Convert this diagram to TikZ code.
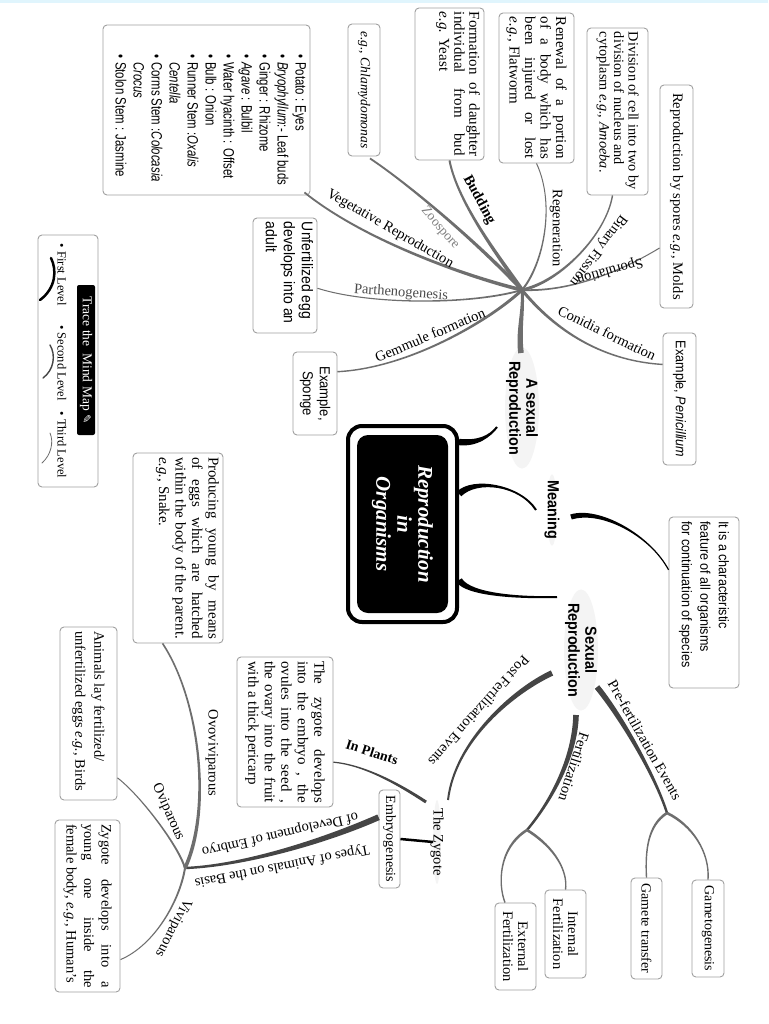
\documentclass[tikz,border=0pt]{standalone}
\usepackage{fontspec}
\setmainfont{Liberation Serif}
\newfontfamily\csans[FakeStretch=0.9]{Liberation Sans}
\newfontfamily\csansn[FakeStretch=0.76]{Liberation Sans}
\newfontfamily\djv{DejaVu Sans}
\usetikzlibrary{calc,shapes.geometric}

\newcommand\setfs[2]{\fontsize{#1}{#2}\selectfont}
\newcommand\boxtxt[4]{\begin{minipage}[c][#2][#3]{#1}#4\end{minipage}}
% tapered connector: start, c1, c2, end, start half width, end half width, colour
\newcommand\taper[7]{%
\fill[#7] ($(#1)!#5!90:(#2)$) .. controls ($(#2)!#5!-90:(#1)$) and ($(#3)!#6!90:(#4)$) .. ($(#4)!#6!-90:(#3)$)
 -- ($(#4)!#6!90:(#3)$) .. controls ($(#3)!#6!-90:(#4)$) and ($(#2)!#5!90:(#1)$) .. ($(#1)!#5!-90:(#2)$) -- cycle;}

\definecolor{br}{HTML}{6E6E6E}
\definecolor{dbr}{HTML}{454545}
\definecolor{bord}{HTML}{A0A0A0}

\tikzset{
  bx/.style={draw=bord, line width=0.9pt, rounded corners=4pt, fill=white, inner sep=4pt},
  lbl/.style={inner sep=0.5pt, font=\setfs{14.5}{15}},
  blob/.style={ellipse, fill=gray!9, inner sep=-4pt, align=center},
  headfont/.style={font=\csans\bfseries\setfs{16}{17}},
}

\begin{document}
\begin{tikzpicture}[x=1pt, y=1pt, rotate=-90, transform shape]
\useasboundingbox (0,0) rectangle (1024,768);
\fill[white] (0,0) rectangle (1024,768);
\fill[cyan!12] (0,0) rectangle (3,768);

% ---------------- boxes of the asexual branch
\node[bx] (veg) at (110,206.5) {\boxtxt{162pt}{199pt}{t}{\csansn\setfs{15}{18}\leftskip=26pt
\textbullet\ Potato : Eyes\\
\textbullet\ \textit{Bryophyllum}:- Leaf buds\\
\textbullet\ Ginger : Rhizome\\
\textbullet\ \textit{Agave} : Bulbil\\
\textbullet\ Water hyacinth : Offset\\
\textbullet\ Bulb : Onion\\
\textbullet\ Runner Stem :\textit{Oxalis}\\
\hphantom{\textbullet\ }\textit{Centella}\\
\textbullet\ Corms Stem :\textit{Colocasia}\\
\hphantom{\textbullet\ }\textit{Crocus}\\
\textbullet\ Stolon Stem : Jasmine}};
\node[bx] (chlam) at (90,364) {\boxtxt{124pt}{24pt}{c}{\centering\setfs{13.5}{15}\itshape e.g., Chlamydomonas}};
\node[bx] (form) at (84,449.5) {\boxtxt{144pt}{61pt}{t}{\setfs{15}{15}Formation\hfill of\hfill daughter\\individual\hfill from\hfill bud\\\textit{e.g.} Yeast}};
\node[bx] (renew) at (88,536.5) {\boxtxt{142pt}{67pt}{c}{\setfs{15}{15.5}Renewal\hfill of\hfill a\hfill portion\\of\hfill a\hfill body\hfill which\hfill has\\been\hfill injured\hfill or\hfill lost\\\textit{e.g.,} Flatworm}};
\node[bx] (div) at (111.5,617.5) {\boxtxt{159pt}{53pt}{c}{\setfs{14.3}{14.5}Division of cell into two by\\division of nucleus and\\cytoplasm \textit{e.g., Amoeba}.}};
\node[bx] (spores) at (196.5,676.5) {\boxtxt{215pt}{25pt}{c}{\centering\setfs{14.5}{15}Reproduction by spores \textit{e.g.,} Molds}};
\node[bx] (pen) at (399,679.5) {\boxtxt{124pt}{25pt}{c}{\centering\csans\setfs{14}{15}Example, \textit{Penicillium}}};
\node[bx] (unf) at (275.5,285) {\boxtxt{107pt}{56pt}{t}{\csans\setfs{15.5}{18}Unfertilized egg\\develops into an\\adult}};
\node[bx] (sponge) at (393.5,315) {\boxtxt{75pt}{36pt}{c}{\centering\csans\setfs{14.5}{17}Example,\\Sponge}};

% ---------------- central title
\node[draw=black, line width=4pt, rounded corners=14pt, minimum width=196pt, minimum height=109pt] (frame) at (524,402.5) {};
\node[fill=black, rounded corners=11pt, minimum width=178pt, minimum height=91pt, text=white, align=center, font=\setfs{21}{21}\bfseries\itshape] (title) at (524,402.5) {Reproduction\\in\\Organisms};

% ---------------- first level nodes
\node[blob, headfont] (asex) at (408,522) {A sexual\\Reproduction};
\node[blob, headfont] (meaning) at (510,552) {Meaning};
\node[blob, headfont] (sexual) at (650,581) {Sexual\\Reproduction};
\node[bx] (charac) at (602.5,704) {\boxtxt{163pt}{62pt}{c}{\csans\setfs{14}{18.5}It is a characteristic\\feature of all organisms\\for continuation of species}};

% ---------------- sexual branch boxes
\node[blob, font=\setfs{14.5}{15}] (zyg) at (842,437) {The Zygote};
\node[bx] (prod) at (548,178) {\boxtxt{182pt}{82pt}{t}{\setfs{15}{16.5}Producing\hfill young\hfill by\hfill means\\of\hfill eggs\hfill which\hfill are\hfill hatched\\within\hfill the\hfill body\hfill of\hfill the\hfill parent.\\\textit{e.g.,} Snake.}};
\node[bx] (plants) at (732,285) {\boxtxt{142pt}{88pt}{c}{\setfs{15}{16.5}The\hfill zygote\hfill develops\\into\hfill the\hfill embryo\hfill ,\hfill the\\ovules\hfill into\hfill the\hfill seed\hfill ,\\the\hfill ovary\hfill into\hfill the\hfill fruit\\with a thick pericarp}};
\node[bx] (embryo) at (839,389.5) {\boxtxt{90pt}{13pt}{c}{\centering\setfs{14}{15}Embryogenesis}};
\node[bx] (animals) at (713.5,88.5) {\boxtxt{165pt}{49pt}{c}{\setfs{14.5}{19}Animals lay fertilized/\\unfertilized eggs \textit{e.g.,} Birds}};
\node[bx] (zdev) at (906,87.5) {\boxtxt{164pt}{57pt}{c}{\setfs{14.5}{17.5}Zygote\hfill develops\hfill into\hfill a\\young\hfill one\hfill inside\hfill the\\female body, \textit{e.g.,} Human’s}};
\node[bx] (gameto) at (928.5,708) {\boxtxt{89pt}{24pt}{c}{\centering\setfs{14}{15}Gametogenesis}};
\node[bx] (gtrans) at (928.5,646.5) {\boxtxt{93pt}{23pt}{c}{\centering\setfs{14}{15}Gamete transfer}};
\node[bx] (internal) at (934,565.5) {\boxtxt{80pt}{33pt}{c}{\centering\setfs{14.5}{15}Internal\\Fertilization}};
\node[bx] (external) at (946.5,515.5) {\boxtxt{79pt}{33pt}{c}{\centering\setfs{14.5}{15}External\\Fertilization}};

% ---------------- legend
\node[bx, minimum width=252pt, minimum height=60pt, inner sep=0pt] (legend) at (361,68) {};
\node[fill=black, text=white, rounded corners=2pt, minimum width=150pt, minimum height=18pt, inner sep=1pt, font=\setfs{13.5}{14}] (lhead) at (360,86) {Trace the\ \ Mind Map {\djv\setfs{11}{12}✎}};
\node[inner sep=0pt, font=\setfs{12.5}{13}] (lv1) at (275,62) {\textbullet\ First Level};
\node[inner sep=0pt, font=\setfs{12.5}{13}] (lv2) at (363,62) {\textbullet\ Second Level};
\node[inner sep=0pt, font=\setfs{12.5}{13}] (lv3) at (445,62) {\textbullet\ Third Level};
\draw[line width=2.5pt, line cap=round] (258,51) .. controls (270,57) and (288,56) .. (300,40);
\draw[line width=1.4pt, line cap=round, dbr] (345,50) .. controls (355,56) and (370,54) .. (378,43);
\draw[line width=0.8pt, line cap=round, br] (433,50) .. controls (442,54) and (455,51) .. (463,42);

% ---------------- connector end points
\coordinate (hub) at (290,522);
\coordinate (presplit) at (813,667);
\coordinate (fsplit) at (830,527);
\coordinate (ajunc) at (868,185);
\coordinate (tA) at ($(frame.north west)!0.09!(frame.north east)$);
\coordinate (tM) at ($(frame.north west)!0.35!(frame.north east)$);
\coordinate (tS) at ($(frame.north west)!0.78!(frame.north east)$);
\coordinate (asexIn) at ($(asex.center)+(19,-25)$);
\coordinate (meanIn) at ($(meaning.center)+(0,-16)$);
\coordinate (sexIn) at ($(sexual.center)+(-53,-24)$);
\coordinate (meanOut) at ($(meaning.center)+(7,19)$);
\coordinate (charIn) at ($(charac.south west)!0.31!(charac.south east)$);
\coordinate (asexTop) at ($(asex.center)+(-55,-1)$);
\coordinate (vegIn) at ($(veg.north east)+(-3,-6)$);
\coordinate (chlIn) at ($(chlam.east)+(2,6)$);
\coordinate (formIn) at (form.east);
\coordinate (renIn) at (renew.east);
\coordinate (divIn) at ($(div.east)+(0,-5)$);
\coordinate (spIn) at ($(spores.south west)!0.73!(spores.south east)$);
\coordinate (penIn) at ($(pen.south west)!0.24!(pen.south east)$);
\coordinate (spgIn) at ($(sponge.north west)!0.24!(sponge.north east)$);
\coordinate (unfIn) at ($(unf.north west)!0.61!(unf.north east)$);
\coordinate (sexPost) at ($(sexual.center)+(23,-29)$);
\coordinate (sexPre) at ($(sexual.center)+(37,16)$);
\coordinate (sexFer) at ($(sexual.center)+(65,-5)$);
\coordinate (zygIn) at ($(zyg.center)+(-42,11)$);
\coordinate (gtIn) at (gtrans.west);
\coordinate (gmIn) at (gameto.west);
\coordinate (intIn) at (internal.west);
\coordinate (extIn) at ($(external.north west)!0.75!(external.south west)$);
\coordinate (zygPl) at ($(zyg.center)+(-40,-11)$);
\coordinate (plIn) at ($(plants.north west)!0.7!(plants.north east)$);
\coordinate (emOut) at ($(embryo.south west)!0.28!(embryo.south east)$);
\coordinate (prodIn) at ($(prod.south east)!0.33!(prod.north east)$);
\coordinate (animIn) at ($(animals.north west)!0.87!(animals.north east)$);
\coordinate (zdevIn) at ($(zdev.north west)!0.81!(zdev.north east)$);

% ---------------- connectors
\taper{tA}{444,478}{436,490}{asexIn}{3.2pt}{1pt}{black}
\taper{tM}{478,475}{485,520}{meanIn}{3.2pt}{1pt}{black}
\taper{tS}{595,468}{598,520}{sexIn}{3.2pt}{1pt}{black}
\taper{meanOut}{508,600}{535,650}{charIn}{2.6pt}{0.6pt}{black}

\taper{asexTop}{330,518}{310,524}{hub}{2.8pt}{1.5pt}{br}
\taper{hub}{280,480}{245,370}{vegIn}{1.8pt}{0.9pt}{br}
\taper{hub}{245,480}{185,410}{chlIn}{1.8pt}{0.9pt}{br}
\taper{hub}{265,505}{205,458}{formIn}{2pt}{1pt}{br}
\taper{hub}{265,543}{205,556}{renIn}{1pt}{0.5pt}{br}
\taper{hub}{282,560}{235,606}{divIn}{1.5pt}{0.7pt}{br}
\taper{hub}{292,565}{275,615}{spIn}{0.9pt}{0.5pt}{br}
\taper{hub}{318,545}{360,590}{penIn}{1.5pt}{0.7pt}{br}
\taper{hub}{320,490}{368,410}{spgIn}{1.5pt}{0.7pt}{br}
\taper{hub}{305,470}{305,370}{unfIn}{0.9pt}{0.5pt}{br}

\taper{sexPost}{690,515}{740,455}{zygIn}{2.8pt}{1pt}{dbr}
\taper{sexPre}{715,620}{775,655}{presplit}{2.8pt}{1.2pt}{dbr}
\taper{presplit}{825,648}{850,645}{gtIn}{1.3pt}{0.7pt}{br}
\taper{presplit}{825,692}{852,710}{gmIn}{1.3pt}{0.7pt}{br}
\taper{sexFer}{760,575}{805,548}{fsplit}{2.8pt}{1.2pt}{dbr}
\taper{fsplit}{848,556}{872,568}{intIn}{1.3pt}{0.7pt}{br}
\taper{fsplit}{848,498}{885,498}{extIn}{1.3pt}{0.7pt}{br}

\taper{zygPl}{785,400}{765,365}{plIn}{1.5pt}{0.6pt}{dbr}
\draw[line width=2.5pt] (zyg.south) -- (embryo.north);
\taper{emOut}{843,320}{866,240}{ajunc}{3pt}{1.2pt}{dbr}
\taper{ajunc}{810,212}{700,200}{prodIn}{1.8pt}{0.8pt}{br}
\taper{ajunc}{845,178}{795,140}{animIn}{1pt}{0.5pt}{br}
\taper{ajunc}{900,180}{945,155}{zdevIn}{1pt}{0.5pt}{br}

% ---------------- connector labels
\node[lbl, rotate=60] (lveg) at (229,390) {Vegetative Reproduction};
\node[lbl, rotate=41, text=gray, font=\setfs{13.5}{14}] (lzoo) at (228,440) {Zoospore};
\node[lbl, rotate=28, font=\bfseries\setfs{14.5}{15}] (lbud) at (200,479) {Budding};
\node[lbl] (lreg) at (228,556) {Regeneration};
\node[lbl, rotate=-37] (lbin) at (250,598) {Binary Fission};
\node[lbl, rotate=-74] (lspo) at (271,610) {Sporulation};
\node[lbl, rotate=64] (lcon) at (333,607) {Conidia formation};
\node[lbl, rotate=113] (lgem) at (335,430) {Gemmule formation};
\node[lbl, rotate=86, text=gray!60!black] (lpar) at (293,401) {Parthenogenesis};
\node[lbl, rotate=-42] (lpost) at (711,479) {Post Fertilization Events};
\node[lbl, rotate=29.5] (lpre) at (740,645) {Pre-fertilization Events};
\node[lbl, rotate=-18] (lfer) at (767,574) {Fertilization};
\node[lbl, rotate=72, font=\bfseries\setfs{14}{15}] (lpl) at (752,372) {In Plants};
\node[lbl] (lovo) at (753,212) {Ovoviviparous};
\node[lbl, rotate=24] (lovi) at (812,168) {Oviparous};
\node[lbl, rotate=-27] (lviv) at (928,173) {Viviparous};
\node[lbl, rotate=-77] (lty2) at (834,280) {of Development of Embryo};
\node[lbl, rotate=-79] (lty1) at (866,282) {Types of Animals on the Basis};
\end{tikzpicture}
\end{document}
